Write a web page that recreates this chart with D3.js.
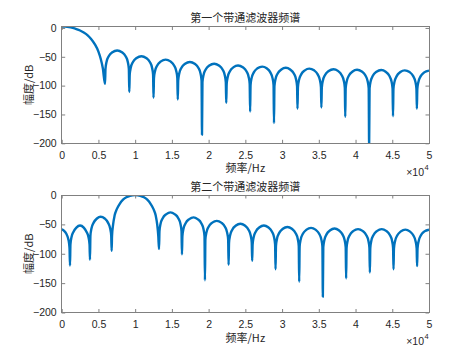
<!DOCTYPE html>
<html><head><meta charset="utf-8">
<script src="https://cdn.jsdelivr.net/npm/d3@7"></script>
<style>
html,body{margin:0;padding:0;background:#fff;}
svg{display:block;}
</style>
</head><body>
<svg id="chart" width="474" height="355"></svg>
<script>
// ---- data (frequency in units of 10^4 Hz, magnitude in dB) ----
const xTickValues = [0, 0.5, 1, 1.5, 2, 2.5, 3, 3.5, 4, 4.5, 5];
const yTickValues = [0, -50, -100, -150, -200];
const titles = ["第一个带通滤波器频谱", "第二个带通滤波器频谱"];
const xLabelText = "频率/Hz";
const yLabelText = "幅度/dB";

const topFreq = [
  0, 0.05, 0.1, 0.15, 0.2, 0.25, 0.3, 0.35, 0.4, 0.45, 0.5, 0.53, 0.56, 0.59,
  0.596, 0.61, 0.64, 0.69, 0.755, 0.82, 0.87, 0.9, 0.914, 0.92,
  0.926, 0.94, 0.97, 1.02, 1.085, 1.15, 1.2, 1.23, 1.244, 1.25,
  1.256, 1.27, 1.3, 1.35, 1.415, 1.48, 1.53, 1.56, 1.574, 1.58,
  1.586, 1.6, 1.63, 1.68, 1.745, 1.81, 1.86, 1.89, 1.904, 1.91,
  1.916, 1.93, 1.96, 2.01, 2.075, 2.14, 2.19, 2.22, 2.234, 2.24,
  2.246, 2.26, 2.29, 2.34, 2.4, 2.465, 2.515, 2.545, 2.559, 2.565,
  2.571, 2.585, 2.615, 2.665, 2.73, 2.79, 2.84, 2.87, 2.884, 2.89,
  2.896, 2.91, 2.94, 2.99, 3.05, 3.11, 3.16, 3.19, 3.204, 3.21,
  3.216, 3.23, 3.26, 3.31, 3.37, 3.435, 3.485, 3.515, 3.529, 3.535,
  3.541, 3.555, 3.585, 3.635, 3.7, 3.76, 3.81, 3.84, 3.854, 3.86,
  3.866, 3.88, 3.91, 3.96, 4.02, 4.085, 4.135, 4.165, 4.179, 4.185,
  4.191, 4.205, 4.235, 4.285, 4.35, 4.41, 4.46, 4.49, 4.504, 4.51,
  4.516, 4.53, 4.56, 4.61, 4.67, 4.735, 4.785, 4.815, 4.829, 4.835,
  4.841, 4.855, 4.885, 4.935, 5.0
];
const topMag = [
  2.5, 2.3, 1.5, 0, -2, -4.5, -8, -12.5, -19, -28, -41, -53, -70, -97,
  -71, -59, -49, -42, -39, -42, -49, -59, -71, -111,
  -81, -69, -59, -52, -49, -52, -59, -69, -81, -121,
  -87, -75, -65, -58, -55, -58, -65, -75, -87, -124,
  -91, -79, -69, -62, -59, -62, -69, -79, -91, -185,
  -94, -82, -72, -65, -62, -65, -72, -82, -94, -130,
  -97, -85, -75, -68, -65, -68, -75, -85, -97, -145,
  -99, -87, -77, -70, -67, -70, -77, -87, -99, -165,
  -101, -89, -79, -72, -69, -72, -79, -89, -101, -140,
  -102.5, -90.5, -80.5, -73.5, -70.5, -73.5, -80.5, -90.5, -102.5, -138,
  -103.5, -91.5, -81.5, -74.5, -71.5, -74.5, -81.5, -91.5, -103.5, -154,
  -104.5, -92.5, -82.5, -75.5, -72.5, -75.5, -82.5, -92.5, -104.5, -208,
  -105, -93, -83, -76, -73, -76, -83, -93, -105, -153,
  -105.5, -93.5, -83.5, -76.5, -73.5, -76.5, -83.5, -93.5, -105.5, -140,
  -106, -94, -84, -77, -74
];

const botFreq = [
  0, 0.033, 0.063, 0.083, 0.1, 0.107, 0.113,
  0.119, 0.133, 0.163, 0.2, 0.25, 0.3, 0.335, 0.365, 0.379, 0.385,
  0.391, 0.405, 0.435, 0.48, 0.53, 0.585, 0.63, 0.66, 0.674, 0.68,
  0.685, 0.70, 0.72, 0.75, 0.79, 0.835, 0.88, 0.93, 1.0, 1.07, 1.12, 1.165, 1.21, 1.25, 1.28, 1.30, 1.315, 1.325,
  1.331, 1.345, 1.375, 1.425, 1.48, 1.537, 1.587, 1.617, 1.631, 1.637,
  1.643, 1.657, 1.687, 1.737, 1.795, 1.85, 1.9, 1.93, 1.944, 1.95,
  1.956, 1.97, 2.0, 2.05, 2.111, 2.172, 2.222, 2.252, 2.266, 2.272,
  2.278, 2.292, 2.322, 2.372, 2.432, 2.493, 2.543, 2.573, 2.587, 2.593,
  2.599, 2.613, 2.643, 2.693, 2.752, 2.811, 2.861, 2.891, 2.905, 2.911,
  2.917, 2.931, 2.961, 3.011, 3.072, 3.133, 3.183, 3.213, 3.227, 3.233,
  3.239, 3.253, 3.283, 3.333, 3.394, 3.455, 3.505, 3.535, 3.549, 3.555,
  3.561, 3.575, 3.605, 3.655, 3.714, 3.772, 3.822, 3.852, 3.866, 3.872,
  3.878, 3.892, 3.922, 3.972, 4.034, 4.095, 4.145, 4.175, 4.189, 4.195,
  4.201, 4.215, 4.245, 4.295, 4.356, 4.417, 4.467, 4.497, 4.511, 4.517,
  4.523, 4.537, 4.567, 4.617, 4.678, 4.738, 4.788, 4.818, 4.832, 4.838,
  4.844, 4.858, 4.888, 4.938, 5.0
];
const botMag = [
  -58.5, -61, -66, -72, -82, -92, -120,
  -84, -72, -62, -55.5, -52, -55.5, -62, -72, -84, -110,
  -69, -57, -47, -40, -37, -40, -47, -57, -69, -95,
  -70, -50, -35, -24, -15, -8, -3.8, -1.3, 0, -1.3, -3.8, -8, -15, -24, -35, -50, -70, -92,
  -61.5, -49.5, -39.5, -32.5, -29.5, -32.5, -39.5, -49.5, -61.5, -101,
  -70, -58, -48, -41, -38, -41, -48, -58, -70, -145,
  -76, -64, -54, -47, -44, -47, -54, -64, -76, -119,
  -81, -69, -59, -52, -49, -52, -59, -69, -81, -112,
  -84, -72, -62, -55, -52, -55, -62, -72, -84, -126.5,
  -86.5, -74.5, -64.5, -57.5, -54.5, -57.5, -64.5, -74.5, -86.5, -147.5,
  -88, -76, -66, -59, -56, -59, -66, -76, -88, -173,
  -89, -77, -67, -60, -57, -60, -67, -77, -89, -142,
  -90, -78, -68, -61, -58, -61, -68, -78, -90, -132,
  -90, -78, -68, -61, -58, -61, -68, -78, -90, -126.5,
  -91, -79, -69, -62, -59, -62, -69, -79, -91, -121,
  -91, -79, -69, -62, -59
];

// ---- layout ----
const panels = [
  {title: titles[0], freq: topFreq, mag: topMag, yMax: 2.5, top: 26.5, bottom: 143.3},
  {title: titles[1], freq: botFreq, mag: botMag, yMax: 0,   top: 195,  bottom: 312.5}
];
const left = 61.7, right = 429;
const axisColor = "#808080", textColor = "#262626", lineColor = "#0072BD";
const tickFont = "'Liberation Sans', Arial, Helvetica, sans-serif";
const cjkFont = "'Noto Sans CJK SC', 'Noto Sans', sans-serif";

const svg = d3.select("#chart");

panels.forEach((p, i) => {
  const x = d3.scaleLinear().domain([0, 5]).range([left, right]);
  const y = d3.scaleLinear().domain([-200, p.yMax]).range([p.bottom, p.top]);
  const g = svg.append("g");

  const clipId = "clip" + i;
  svg.append("clipPath").attr("id", clipId).append("rect")
    .attr("x", left).attr("y", p.top).attr("width", right - left).attr("height", p.bottom - p.top);

  // data line
  const pts = p.freq.map((f, k) => [f, p.mag[k]]);
  g.append("path")
    .datum(pts)
    .attr("clip-path", `url(#${clipId})`)
    .attr("fill", "none")
    .attr("stroke", lineColor)
    .attr("stroke-width", 2.4)
    .attr("stroke-linejoin", "round")
    .attr("d", d3.line().x(d => x(d[0])).y(d => y(d[1])).curve(d3.curveMonotoneX));

  // axes
  const styleAxis = sel => {
    sel.select(".domain").remove();
    sel.selectAll(".tick line").attr("stroke", axisColor);
    sel.selectAll(".tick text").attr("fill", textColor)
      .style("font-family", tickFont).style("font-size", "10.5px");
  };
  g.append("g").attr("transform", `translate(0,${p.bottom})`)
    .call(d3.axisBottom(x).tickValues(xTickValues).tickFormat(d3.format("~g"))
      .tickSizeInner(-3.5).tickSizeOuter(0).tickPadding(8))
    .call(styleAxis);
  g.append("g").attr("transform", `translate(0,${p.top})`)
    .call(d3.axisTop(x).tickValues(xTickValues).tickFormat("")
      .tickSizeInner(-3.5).tickSizeOuter(0))
    .call(styleAxis);
  g.append("g").attr("transform", `translate(${left},0)`)
    .call(d3.axisLeft(y).tickValues(yTickValues).tickFormat(d3.format("~g"))
      .tickSizeInner(-3.5).tickSizeOuter(0).tickPadding(5))
    .call(styleAxis);
  g.append("g").attr("transform", `translate(${right},0)`)
    .call(d3.axisRight(y).tickValues(yTickValues).tickFormat("")
      .tickSizeInner(-3.5).tickSizeOuter(0))
    .call(styleAxis);

  // box
  g.append("rect")
    .attr("x", left).attr("y", p.top)
    .attr("width", right - left).attr("height", p.bottom - p.top)
    .attr("fill", "none").attr("stroke", axisColor).attr("stroke-width", 1)
    .attr("shape-rendering", "crispEdges");

  const cx = (left + right) / 2;
  // title
  g.append("text").attr("x", cx).attr("y", p.top - 4.5)
    .attr("text-anchor", "middle").attr("fill", textColor)
    .style("font-family", cjkFont).style("font-size", "11px")
    .text(p.title);
  // x label
  g.append("text").attr("x", cx).attr("y", p.bottom + 29)
    .attr("text-anchor", "middle").attr("fill", textColor)
    .style("font-family", cjkFont).style("font-size", "11px")
    .text(xLabelText);
  // exponent label
  g.append("text").attr("x", right - 5).attr("y", p.bottom + 32.5)
    .attr("text-anchor", "end").attr("fill", textColor)
    .style("font-family", tickFont).style("font-size", "10.5px")
    .text("×10");
  g.append("text").attr("x", right - 4.5).attr("y", p.bottom + 26.5)
    .attr("fill", textColor)
    .style("font-family", tickFont).style("font-size", "7.5px")
    .text("4");
  // y label
  const cy = (p.top + p.bottom) / 2;
  g.append("text")
    .attr("transform", `translate(33,${cy}) rotate(-90)`)
    .attr("text-anchor", "middle").attr("fill", textColor)
    .style("font-family", cjkFont).style("font-size", "11px")
    .text(yLabelText);
});
</script>
</body></html>
